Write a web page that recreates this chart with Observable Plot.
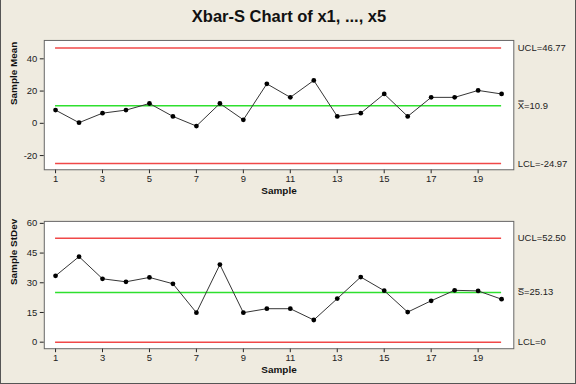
<!DOCTYPE html>
<html>
<head>
<meta charset="utf-8">
<script src="https://cdn.jsdelivr.net/npm/d3@7"></script>
<script src="https://cdn.jsdelivr.net/npm/@observablehq/plot@0.6"></script>
<style>
  html, body { margin: 0; padding: 0; }
  #chart {
    position: relative; width: 576px; height: 384px; box-sizing: border-box;
    background: #efebe0; border-left: 1px solid #555; border-right: 1px solid #555; border-bottom: 1px solid #555;
    overflow: hidden;
  }
  #title {
    position: absolute; left: 0; top: 6px; width: 576px; text-align: center;
    font-family: "Liberation Sans", Arial, sans-serif; font-weight: bold; font-size: 16.5px; line-height: 20px; color: #111;
  }
  #chart svg { position: absolute; left: -1px; }
</style>
</head>
<body>
<div id="chart"><div id="title">Xbar-S Chart of x1, ..., x5</div></div>
<script>
const samples = [1,2,3,4,5,6,7,8,9,10,11,12,13,14,15,16,17,18,19,20];
const sampleMeans = [8.2,0.4,6.3,8.2,12.3,4.3,-1.7,12.3,2.2,24.5,16.1,26.6,4.3,6.3,18.2,4.3,16.1,16.1,20.4,18.2];
const sampleStDevs = [33.5,43.2,32.0,30.5,32.7,29.5,14.9,39.2,14.9,16.9,16.9,11.2,22.0,32.9,26.0,15.2,20.9,26.2,25.9,21.7];
const meanLimitValues = [46.77, 10.9, -24.97];
const meanLimitLabels = ["UCL=46.77", "X\u033F=10.9", "LCL=-24.97"];
const sdLimitValues = [52.50, 25.13, 0];
const sdLimitLabels = ["UCL=52.50", "S\u0305=25.13", "LCL=0"];
const limitColors = ["#f04848", "#2ee02e", "#f04848"];
const xTicks = [1,3,5,7,9,11,13,15,17,19];
const meanTicks = [-20,0,20,40];
const sdTicks = [0,15,30,45,60];

function panel({values, limitValues, limitLabels, ticks, domain, ylabel, height, marginTop, marginBottom}) {
  const rows = samples.map((s, i) => ({sample: s, value: values[i]}));
  const limits = limitValues.map((v, i) => ({value: v, label: limitLabels[i], color: limitColors[i]}));
  return Plot.plot({
    width: 577, height, marginLeft: 44, marginRight: 61, marginTop, marginBottom,
    style: {background: "transparent", fontFamily: "Liberation Sans, Arial, sans-serif", fontSize: "9.5px", color: "#222"},
    color: {type: "identity"},
    x: {domain: [0.52, 20.52], label: null},
    y: {domain, label: null},
    marks: [
      Plot.frame({fill: "white", stroke: "none"}),
      Plot.ruleY(limits, {y: "value", x1: samples[0], x2: samples[samples.length - 1], stroke: "color", strokeWidth: 1.5}),
      Plot.line(rows, {x: "sample", y: "value", stroke: "#333", strokeWidth: 1}),
      Plot.dot(rows, {x: "sample", y: "value", r: 2.4, fill: "#000"}),
      Plot.text(limits, {y: "value", text: "label", frameAnchor: "right", dx: 4, textAnchor: "start", fontSize: 9.5, fill: "#222"}),
      Plot.axisX({ticks: xTicks, tickSize: 4, tickPadding: 2, label: null, tickFormat: d => String(d)}),
      Plot.axisY({ticks, tickSize: 4, tickPadding: 3, label: null, tickFormat: d => String(d)}),
      Plot.text([ylabel], {text: d => d, frameAnchor: "left", dx: -31, rotate: -90, fontWeight: "bold", fontSize: 10, fill: "#111"}),
      Plot.text(["Sample"], {text: d => d, frameAnchor: "bottom", dy: 24, fontWeight: "bold", fontSize: 10, fill: "#111"}),
      Plot.frame({stroke: "#666"})
    ]
  });
}

const chartEl = document.getElementById("chart");
const meanPanel = panel({values: sampleMeans, limitValues: meanLimitValues, limitLabels: meanLimitLabels, ticks: meanTicks,
  domain: [-28.8, 51.4], ylabel: "Sample Mean", height: 170, marginTop: 10, marginBottom: 30});
meanPanel.style.top = "30px";
chartEl.appendChild(meanPanel);
const sdPanel = panel({values: sampleStDevs, limitValues: sdLimitValues, limitLabels: sdLimitLabels, ticks: sdTicks,
  domain: [-3.3, 61], ylabel: "Sample StDev", height: 184, marginTop: 21, marginBottom: 35});
sdPanel.style.top = "200px";
chartEl.appendChild(sdPanel);
</script>
</body>
</html>
